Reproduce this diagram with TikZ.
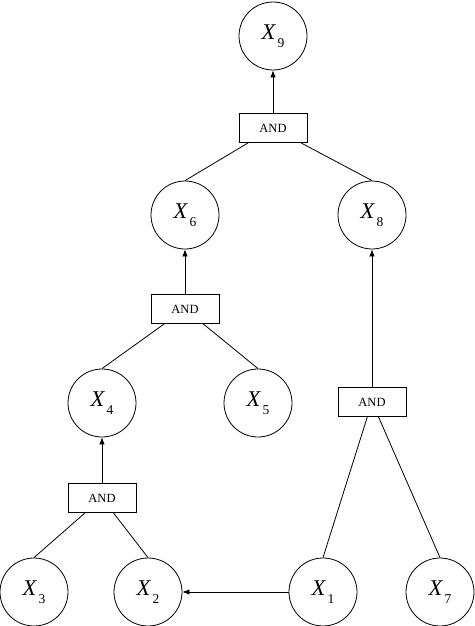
\documentclass[tikz,border=0pt]{standalone}
\usepackage{fontspec}
\setmainfont{Liberation Serif}
\usetikzlibrary{arrows.meta}
\newcommand{\xvar}[1]{\fontsize{22.5}{22.5}\selectfont\textit{X}\kern1.5pt\raisebox{-7.5pt}{\fontsize{13.5}{13.5}\selectfont #1}}
\tikzset{
  var/.style={draw, circle, minimum size=68pt, inner sep=0pt, line width=0.8pt},
  gate/.style={draw, rectangle, minimum width=68pt, minimum height=29pt, inner sep=0pt, line width=0.8pt, font=\fontsize{12.5}{12.5}\selectfont},
  conn/.style={line width=0.8pt},
  arr/.style={line width=0.8pt, -{Latex[length=7pt,width=5.5pt]}}
}
\begin{document}
\begin{tikzpicture}[x=1pt,y=-1pt]
\useasboundingbox (0,0) rectangle (474,626);
\node[var] (x9) at (273,36) {\xvar{9}};
\node[gate] (a1) at (273,128) {AND};
\node[var] (x6) at (185,215) {\xvar{6}};
\node[var] (x8) at (372,215) {\xvar{8}};
\node[gate] (a2) at (185,309) {AND};
\node[var] (x4) at (102,403) {\xvar{4}};
\node[var] (x5) at (258,403) {\xvar{5}};
\node[gate] (a3) at (372,402) {AND};
\node[gate] (a4) at (102,498) {AND};
\node[var] (x3) at (34,592) {\xvar{3}};
\node[var] (x2) at (148,592) {\xvar{2}};
\node[var] (x1) at (323,592) {\xvar{1}};
\node[var] (x7) at (440,592) {\xvar{7}};

\draw[arr] (a1) -- (x9);
\draw[conn] (a1) -- (x6.north);
\draw[conn] (a1) -- (x8.north);
\draw[arr] (a2) -- (x6);
\draw[conn] (a2) -- (x4.north);
\draw[conn] (a2) -- (x5.north);
\draw[arr] (a3) -- (x8);
\draw[conn] (a3) -- (x1.north);
\draw[conn] (a3) -- (x7.north);
\draw[arr] (a4) -- (x4);
\draw[conn] (a4) -- (x3.north);
\draw[conn] (a4) -- (x2.north);
\draw[arr] (x1) -- (x2);
\end{tikzpicture}
\end{document}
